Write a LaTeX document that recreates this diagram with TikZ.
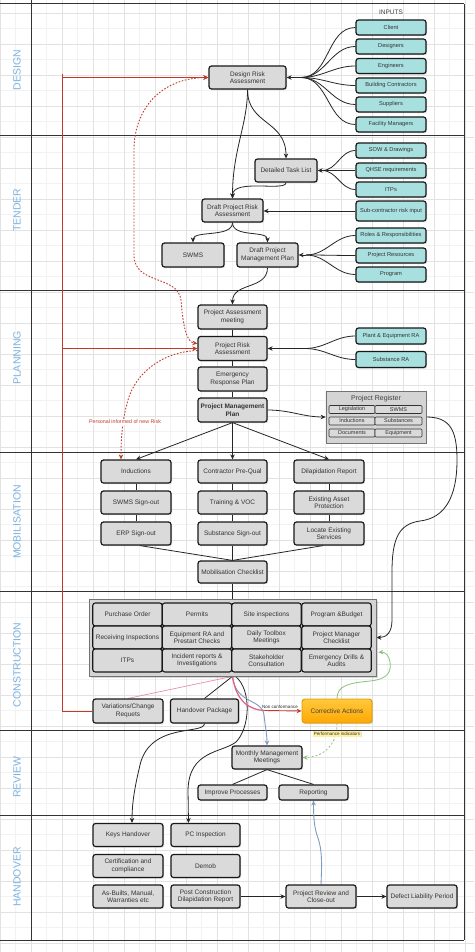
\documentclass[tikz,border=0pt]{standalone}
\usepackage{fontspec}
\setmainfont{Liberation Sans}
\usetikzlibrary{arrows.meta,shadows,calc}
\definecolor{boxgray}{HTML}{DADADA}
\definecolor{cyanfill}{HTML}{A8E0E0}
\definecolor{lanecol}{HTML}{7DB3E0}
\definecolor{redline}{HTML}{C0392B}
\definecolor{pinkline}{HTML}{E06080}
\definecolor{bluegray}{HTML}{7F9CC0}
\definecolor{greenline}{HTML}{8DBF7F}
\definecolor{orangetop}{HTML}{FFC83D}
\definecolor{orangebot}{HTML}{FFA800}
\definecolor{orangedraw}{HTML}{E09A00}
\definecolor{gridc}{HTML}{E2E2E2}
\definecolor{regfill}{HTML}{D4D4D4}
\definecolor{pifill}{HTML}{FFF0A0}
\newcommand\bfnt{\fontsize{6.5}{7.4}\selectfont}
\newcommand\cfnt{\fontsize{5.7}{6.6}\selectfont}
\newcommand\tinyfnt{\fontsize{5.5}{6}\selectfont}
\newcommand\lblfnt{\fontsize{4.5}{5}\selectfont}
\pgfdeclarelayer{gridlayer}
\pgfdeclarelayer{connlayer}
\pgfsetlayers{gridlayer,connlayer,main}
\begin{document}
\begin{tikzpicture}[x=1pt,y=-1pt,
  >={Stealth[length=5pt,width=4.5pt]},
  gbox/.style={draw=black!90, line width=1.2pt, rounded corners=2.5pt, fill=boxgray, align=center, font=\bfnt, text=black!80, inner sep=0.5pt, minimum width=69, minimum height=23, drop shadow={shadow xshift=1.2pt,shadow yshift=-1.2pt,opacity=.3}},
  cbox/.style={gbox, fill=cyanfill, font=\cfnt, minimum width=70, minimum height=15},
  cell/.style={draw=black!90, line width=1.1pt, rounded corners=2.5pt, fill=boxgray, align=center, font=\bfnt, text=black!80, inner sep=0.5pt, minimum width=69.5, minimum height=23},
  rcell/.style={draw=black!80, line width=0.6pt, rounded corners=1pt, fill=boxgray, font=\tinyfnt, text=black!80, inner sep=0pt, minimum height=8},
  lane/.style={rotate=90, font=\fontsize{10.5}{12}\selectfont, text=lanecol},
  conn/.style={draw=black!85, line width=0.8pt},
  lanel/.style={draw=black!80, line width=1pt},
  reddash/.style={draw=redline, line width=0.9pt, dash pattern=on 1.6pt off 1.6pt},
]
\useasboundingbox (0,0) rectangle (474,952);
\begin{pgfonlayer}{gridlayer}
\fill[white] (0,0) rectangle (474,952);
\foreach \x in {15.5,46.5,...,470} \draw[gridc!45,line width=0.4pt] (\x,0) -- (\x,952);
\foreach \y in {28.5,59.5,...,950} \draw[gridc!45,line width=0.4pt] (0,\y) -- (474,\y);
\foreach \x in {0,31,...,470} \draw[gridc,line width=0.5pt] (\x,0) -- (\x,952);
\foreach \y in {13,44,...,950} \draw[gridc,line width=0.5pt] (0,\y) -- (474,\y);
\draw[lanel] (0,4) -- (464,4);
\draw[lanel] (31,0) -- (31,940);
\draw[lanel] (464,4) -- (464,940);
\foreach \y in {136,290,452,591,730,815,940} \draw[lanel] (0,\y) -- (464,\y);
\end{pgfonlayer}

% lane labels
\node[lane] (lDesign) at (17,70) {DESIGN};
\node[lane] (lTender) at (17,210) {TENDER};
\node[lane] (lPlanning) at (17,358) {PLANNING};
\node[lane] (lMob) at (17,522) {MOBILISATION};
\node[lane] (lCons) at (17,665) {CONSTRUCTION};
\node[lane] (lReview) at (17,777) {REVIEW};
\node[lane] (lHand) at (17,877) {HANDOVER};

% DESIGN
\node[gbox,minimum width=77] (dra) at (247.5,77.5) {Design Risk\\Assessment};
\node[font=\bfnt, text=black!75] (inputs) at (391,12) {INPUTS};
\node[cbox] (client) at (391,27.5) {Client};
\node[cbox] (designers) at (391,46.5) {Designers};
\node[cbox] (engineers) at (391,66) {Engineers};
\node[cbox] (buildc) at (391,85.5) {Building Contractors};
\node[cbox] (suppliers) at (391,104.5) {Suppliers};
\node[cbox] (facility) at (391,124.5) {Facility Managers};

% TENDER
\node[gbox,minimum width=62] (dtl) at (286,170.5) {Detailed Task List};
\node[cbox] (sow) at (391,150.5) {SOW \& Drawings};
\node[cbox] (qhse) at (391,170.5) {QHSE requirements};
\node[cbox] (itpin) at (391,189.5) {ITPs};
\node[cbox,minimum height=20,inner sep=0pt] (subc) at (391,211) {Sub-contractor risk input};
\node[gbox,minimum width=61] (dpra) at (232.5,210.5) {Draft Project Risk\\Assessment};
\node[gbox,minimum width=62,minimum height=24] (swms) at (193,255) {SWMS};
\node[gbox,minimum width=61,minimum height=24] (dpmp) at (267.5,255) {Draft Project\\Management Plan};
\node[cbox] (roles) at (391,235.5) {Roles \& Responsibilities};
\node[cbox] (resources) at (391,255.5) {Project Resources};
\node[cbox] (program) at (391,274.5) {Program};

% PLANNING
\node[gbox,minimum height=24] (pam) at (232.5,317) {Project Assessment\\meeting};
\node[gbox,minimum height=24] (pra) at (232.5,348.5) {Project Risk\\Assessment};
\node[gbox,minimum height=24] (erpl) at (232.5,379) {Emergency\\Response Plan};
\node[gbox,minimum height=24] (pmp) at (232.5,410) {\textbf{Project Management}\\\textbf{Plan}};
\node[cbox,minimum height=16] (plant) at (391,336) {Plant \& Equipment RA};
\node[cbox,minimum height=16] (subsra) at (391,359.5) {Substance RA};
\node[draw=black!55, line width=0.6pt, fill=regfill, minimum width=100, minimum height=52, inner sep=0pt, drop shadow={shadow xshift=1.2pt,shadow yshift=-1.2pt,opacity=.3}] (preg) at (376,417) {};
\node[font=\fontsize{7}{8}\selectfont, text=black!75] (pregt) at (376,398.5) {Project Register};
\node[rcell,minimum width=46] (rc1) at (352,409.5) {Legislation};
\node[rcell,minimum width=47] (rc2) at (398.5,409.5) {SWMS};
\node[rcell,minimum width=46] (rc3) at (352,421) {Inductions};
\node[rcell,minimum width=47] (rc4) at (398.5,421) {Substances};
\node[rcell,minimum width=46] (rc5) at (352,433) {Documents};
\node[rcell,minimum width=47] (rc6) at (398.5,433) {Equipment};
\node[font=\fontsize{5.3}{6}\selectfont, text=redline, fill=white, inner sep=0.6pt] (plabel) at (125,422) {Personal informed of new Risk};

% MOBILISATION
\node[gbox,minimum width=70] (ind) at (136,471.5) {Inductions};
\node[gbox,minimum width=70] (swso) at (136,502.5) {SWMS Sign-out};
\node[gbox,minimum width=70] (erpso) at (136,533.5) {ERP Sign-out};
\node[gbox] (cpq) at (232.5,471.5) {Contractor Pre-Qual};
\node[gbox] (tvoc) at (232.5,502.5) {Training \& VOC};
\node[gbox] (sso) at (232.5,533.5) {Substance Sign-out};
\node[gbox,minimum width=70] (dilr) at (329,471.5) {Dilapidation Report};
\node[gbox,minimum width=70] (eap) at (329,502.5) {Existing Asset\\Protection};
\node[gbox,minimum width=70] (les) at (329,533.5) {Locate Existing\\Services};
\node[gbox,minimum height=22] (mobc) at (232.5,572) {Mobilisation Checklist};

% CONSTRUCTION
\node[draw=black!55, line width=0.7pt, fill=regfill, minimum width=287, minimum height=77, inner sep=0pt, drop shadow={shadow xshift=1.5pt,shadow yshift=-1.5pt,opacity=.3}] (cgrid) at (232.5,637.5) {};
\node[cell] (c11) at (127.5,614.5) {Purchase Order};
\node[cell] (c12) at (197,614.5) {Permits};
\node[cell] (c13) at (266.5,614.5) {Site inspections};
\node[cell] (c14) at (336.5,614.5) {Program \&Budget};
\node[cell] (c21) at (127.5,637.5) {Receiving Inspections};
\node[cell] (c22) at (197,637.5) {Equipment RA and\\Prestart Checks};
\node[cell] (c23) at (266.5,637.5) {Daily Toolbox\\Meetings};
\node[cell] (c24) at (336.5,637.5) {Project Manager\\Checklist};
\node[cell] (c31) at (127.5,660.5) {ITPs};
\node[cell] (c32) at (197,660.5) {Incident reports \&\\Investigations};
\node[cell] (c33) at (266.5,660.5) {Stakeholder\\Consultation};
\node[cell] (c34) at (336.5,660.5) {Emergency Drills \&\\Audits};
\node[gbox,minimum width=70,minimum height=24] (var) at (128,711) {Variations/Change\\Requets};
\node[gbox,minimum width=68,minimum height=24] (hp) at (204.5,711) {Handover Package};
\node[draw=orangedraw, line width=0.9pt, rounded corners=3pt, top color=orangetop, bottom color=orangebot, font=\bfnt, text=black!75, minimum width=70, minimum height=24, drop shadow={shadow xshift=1.2pt,shadow yshift=-1.2pt,opacity=.3}] (ca) at (337,711) {Corrective Actions};
\node[font=\lblfnt, text=black!85, fill=white, inner sep=0.5pt] (nclbl) at (280,706.5) {Non conformance};
\node[font=\lblfnt, text=black!80, fill=pifill, inner sep=1pt, drop shadow={shadow xshift=0.8pt,shadow yshift=-0.8pt,opacity=.25}] (pilbl) at (337,734) {Performance indicators};

% REVIEW
\node[gbox,minimum width=70] (mmm) at (267,757.5) {Monthly Management\\Meetings};
\node[gbox,minimum height=15] (ip) at (232.5,792.5) {Improve Processes};
\node[gbox,minimum height=15] (rep) at (313.5,792.5) {Reporting};

% HANDOVER
\node[gbox,minimum width=70] (kh) at (128,835) {Keys Handover};
\node[gbox,minimum width=70] (cert) at (128,866) {Certification and\\compliance};
\node[gbox,minimum width=70] (asb) at (128,896.5) {As-Builts, Manual,\\Warranties etc};
\node[gbox] (pcin) at (205.5,835) {PC Inspection};
\node[gbox] (demob) at (205.5,866) {Demob};
\node[gbox] (pcdr) at (205.5,896.5) {Post Construction\\Dilapidation Report};
\node[gbox,minimum width=70] (prc) at (321,896.5) {Project Review and\\Close-out};
\node[gbox,minimum width=70] (dlp) at (422,896.5) {Defect Liability Period};

% junctions
\coordinate (j1) at (301,77.5);
\coordinate (j2) at (322,170.5);
\coordinate (j3) at (306,255);
\coordinate (j4) at (305,348.5);
\coordinate (rtop) at (62,77.5);
\coordinate (rtick) at (62,74);
\coordinate (rmid) at (62,348.5);
\coordinate (rbot) at (62,711);

\begin{pgfonlayer}{connlayer}
% inputs
\foreach \n in {client,designers,engineers,buildc,suppliers,facility}
  \draw[conn] (\n.west) to[out=180,in=0] (j1);
\draw[conn,->] (j1) -- (dra.east);
\foreach \n in {sow,qhse,itpin}
  \draw[conn] (\n.west) to[out=180,in=0] (j2);
\draw[conn,->] (j2) -- (dtl.east);
\foreach \n in {roles,resources,program}
  \draw[conn] (\n.west) to[out=180,in=0] (j3);
\draw[conn,->] (j3) -- (dpmp.east);
\foreach \n in {plant,subsra}
  \draw[conn] (\n.west) to[out=180,in=0] (j4);
\draw[conn,->] (j4) -- (pra.east);
\draw[conn,->] (subc.west) -- (subc.west -| dpra.east);

% design / tender flow
\draw[conn,->] (dra.south) .. controls (247.5,125) and (286,120) .. (dtl.north);
\draw[conn,->] (dra.south) .. controls (247.5,125) and (232.5,150) .. (dpra.north);
\draw[conn,->] (dtl.south) .. controls (286,192) and (232.5,178) .. (dpra.north);
\draw[conn,->] (dpra.south) .. controls (232.5,238) and (193,230) .. (swms.north);
\draw[conn,->] (dpra.south) .. controls (232.5,238) and (267.5,230) .. (dpmp.north);
\draw[conn,->] (dpmp.south) .. controls (267.5,290) and (232.5,282) .. (pam.north);

% planning
\draw[conn] (pam.south) -- (pra.north);
\draw[conn] (pra.south) -- (erpl.north);
\draw[conn] (erpl.south) -- (pmp.north);
\draw[conn,->] (pmp.east) to[out=0,in=180] (preg.west);
\draw[conn,->] (pmp.south) -- (ind.north);
\draw[conn,->] (pmp.south) -- (cpq.north);
\draw[conn,->] (pmp.south) -- (dilr.north);
\draw[conn,->] (preg.east) .. controls (450,417) and (457,430) .. (457,460)
   .. controls (457,497) and (445,518) .. (420,521)
   .. controls (398,524) and (392,540) .. (392,572) -- (392,620)
   .. controls (392,633) and (386,637.5) .. (cgrid.east);

% red
\draw[draw=redline,line width=0.8pt] (var.west) -- (rbot) -- (rtick);
\draw[draw=redline,line width=0.8pt,->] (rtop) -- (dra.west);
\draw[draw=redline,line width=0.8pt,->] (rmid) -- (pra.west);
\draw[reddash,<->] (dra.west) .. controls (160,78) and (134,110) .. (134,150) -- (134,255)
   .. controls (134,285) and (178,275) .. (181,300) .. controls (183,325) and (186,342) .. ($(pra.west)+(0,-5)$);
\draw[reddash,->] ($(pra.west)+(0,2)$) .. controls (160,352) and (135,375) .. (128,400)
   .. controls (122,420) and (121,440) .. ($(ind.north)+(-15,0)$);

% mobilisation
\draw[conn] (ind.south) -- (swso.north);
\draw[conn] (swso.south) -- (erpso.north);
\draw[conn] (cpq.south) -- (tvoc.north);
\draw[conn] (tvoc.south) -- (sso.north);
\draw[conn] (dilr.south) -- (eap.north);
\draw[conn] (eap.south) -- (les.north);
\draw[conn] (sso.south) -- (mobc.north);
\draw[conn] ($(erpso.south)+(4,0)$) -- (mobc.north);
\draw[conn] ($(les.south)+(-6,0)$) -- (mobc.north);
\draw[conn] (mobc.south) -- (cgrid.north);

% construction
\draw[draw=pinkline!70,line width=0.7pt] (cgrid.south) -- (var.north);
\draw[conn] (cgrid.south) -- (hp.north);
\draw[conn,->] ($(cgrid.south)+(3,0)$) .. controls (252,690) and (250,728) .. (236,742)
   .. controls (222,753) and (189,750) .. (188,790) -- ($(pcin.north)+(-17,0)$);
\draw[conn,->] (hp.south) .. controls (204,735) and (150,722) .. (140,765)
   .. controls (134,790) and (132,805) .. ($(kh.north)+(4,0)$);
\draw[draw=bluegray,line width=0.9pt,->] (cgrid.south) .. controls (236,705) and (262,698) .. (264,715)
   .. controls (265,725) and (267,735) .. (mmm.north);
\draw[draw=pinkline,line width=1.2pt] (cgrid.south) .. controls (236,700) and (248,710) .. (265,710.5);
\draw[draw=redline,line width=0.9pt,->] (265,710.5) -- (ca.west);
\draw[draw=greenline,line width=0.8pt,->] (ca.north) .. controls (337,685) and (350,683) .. (370,681)
   .. controls (390,679) and (391,670) .. (390,662) .. controls (389,655) and (385,652) .. ($(cgrid.south east)+(2,-24)$);
\draw[draw=greenline,line width=0.8pt,dash pattern=on 2pt off 2pt,->] (ca.south) .. controls (337,748) and (320,757.5) .. (mmm.east);

% review
\draw[conn] (mmm.south) -- (ip.north);
\draw[conn] (mmm.south) -- (rep.north);

% handover
\draw[conn,->] (pcdr.east) -- (prc.west);
\draw[conn,->] (prc.east) -- (dlp.west);
\draw[draw=bluegray,line width=0.9pt,->] (prc.north) .. controls (322,862) and (322,850) .. (318,838)
   .. controls (314,828) and (313.5,815) .. (rep.south);
\end{pgfonlayer}
\end{tikzpicture}
\end{document}
